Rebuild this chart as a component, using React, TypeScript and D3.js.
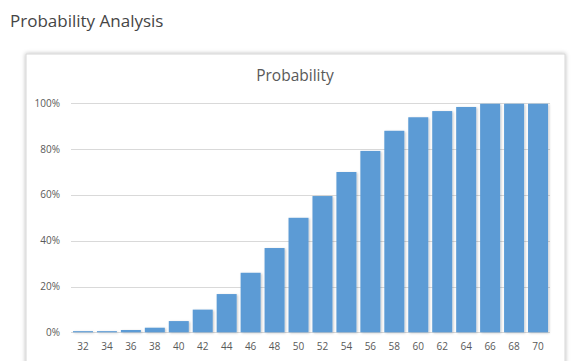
import React from "react";
import * as d3 from "d3";

const categories = ["32","34","36","38","40","42","44","46","48","50","52","54","56","58","60","62","64","66","68","70"];
const probabilities = [0.005,0.005,0.01,0.02,0.049,0.099,0.167,0.26,0.368,0.5,0.595,0.70,0.792,0.88,0.939,0.966,0.984,0.998,0.998,0.998];
const yTicks = [0,0.2,0.4,0.6,0.8,1.0];
const pageTitle = "Probability Analysis";
const chartTitle = "Probability";

const W = 573, H = 361;
const plot = { left: 71, right: 550, top: 103.3, bottom: 332.3 };

export default function App() {
  const x = d3.scaleBand<string>().domain(categories).range([plot.left, plot.right]).paddingInner(0.165).paddingOuter(0.0825);
  const y = d3.scaleLinear().domain([0, 1]).range([plot.bottom, plot.top]);
  const fmt = d3.format(".0%");
  const font = "'Open Sans', 'Noto Sans', sans-serif";
  return (
    <svg width={W} height={H} style={{ position: "fixed", left: 0, top: 0, display: "block", background: "#fff" }}>
      <defs>
        <filter id="boxShadow" x="-5%" y="-5%" width="110%" height="110%">
          <feDropShadow dx="0" dy="0" stdDeviation="2.2" floodColor="#000" floodOpacity="0.28" />
        </filter>
        <filter id="barShadow" x="-20%" y="-5%" width="140%" height="110%">
          <feDropShadow dx="1.2" dy="0.8" stdDeviation="0.9" floodColor="#000" floodOpacity="0.22" />
        </filter>
      </defs>
      <text x={10} y={27} fontFamily={font} fontSize={17} fill="#454545">{pageTitle}</text>
      <rect x={26} y={54} width={539} height={330} fill="#fff" stroke="#d6d6d6" strokeWidth={1} filter="url(#boxShadow)" />
      <text x={295} y={81} textAnchor="middle" fontFamily={font} fontSize={15.5} fill="#595959">{chartTitle}</text>
      {yTicks.map(t => (
        <g key={t}>
          <line x1={plot.left} x2={plot.right} y1={Math.round(y(t)) + 0.5} y2={Math.round(y(t)) + 0.5} stroke="#d9d9d9" strokeWidth={1} />
          <text x={60} y={y(t) + 3.5} textAnchor="end" fontFamily={font} fontSize={10} fill="#595959">{fmt(t)}</text>
        </g>
      ))}
      <g filter="url(#barShadow)">
        {categories.map((c, i) => (
          <rect key={c} x={x(c)} y={y(probabilities[i])} width={x.bandwidth()} height={plot.bottom - y(probabilities[i])} fill="#5b9bd5" />
        ))}
      </g>
      {categories.map(c => (
        <text key={c} x={(x(c) as number) + x.bandwidth() / 2} y={350} textAnchor="middle" fontFamily={font} fontSize={10} fill="#595959">{c}</text>
      ))}
    </svg>
  );
}
